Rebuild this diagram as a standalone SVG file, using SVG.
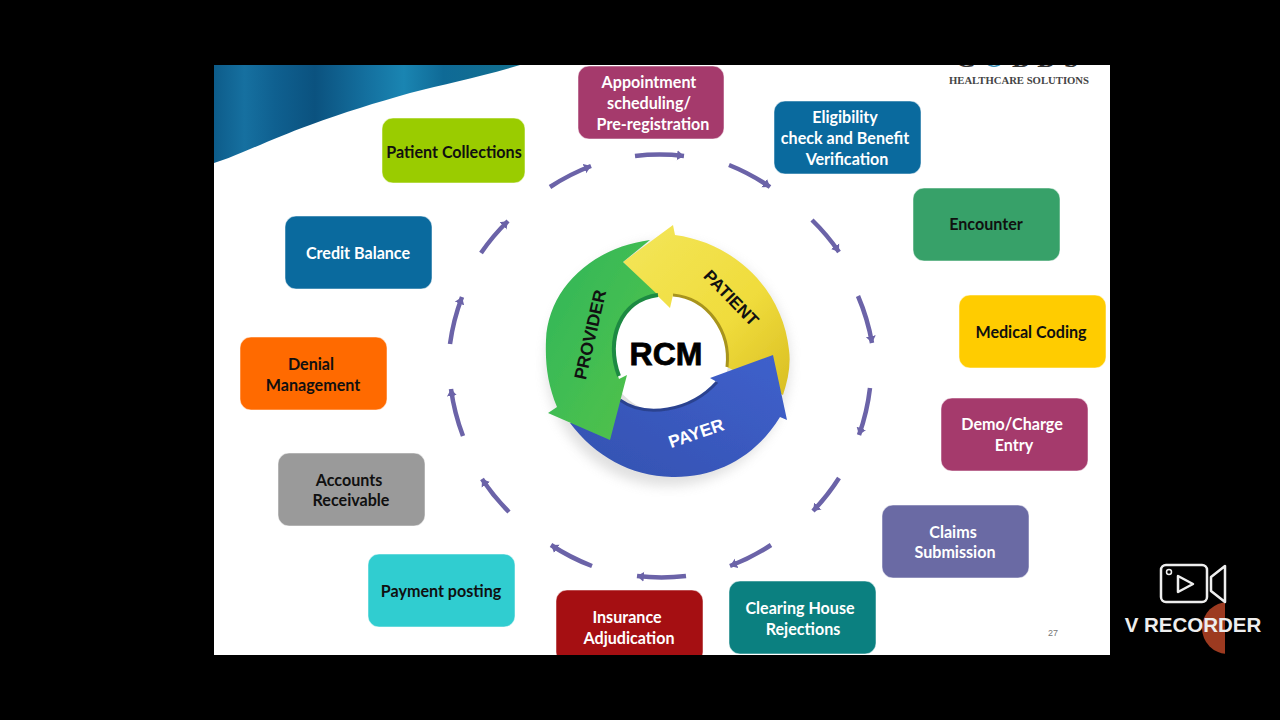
<svg xmlns="http://www.w3.org/2000/svg" width="1280" height="720" viewBox="0 0 1280 720">
<style>
.n{stroke:#fff;stroke-opacity:.5;stroke-width:1}
.t{font-family:Lato,"Liberation Sans",sans-serif;font-weight:700;font-size:16.1px;text-anchor:middle;transform:translateY(1px)}
.w{fill:#fff}.k{fill:#101010}
.c{fill:none;stroke:#6b63a8;stroke-width:4.5;marker-end:url(#ah)}
.r{font-family:"Liberation Sans",sans-serif;font-weight:700;text-anchor:middle}
</style>
<defs>
<marker id="ah" markerUnits="userSpaceOnUse" markerWidth="10" markerHeight="12" refX="7" refY="6" orient="auto"><path d="M0 1L7 6L0 11Z" fill="#6b63a8"/></marker>
<linearGradient id="ban" x1="0" y1="0" x2="1" y2="0"><stop offset="0" stop-color="#0d5c8a"/><stop offset=".1" stop-color="#1670a0"/><stop offset=".2" stop-color="#0f6090"/><stop offset=".33" stop-color="#0b527f"/><stop offset=".5" stop-color="#14709f"/><stop offset=".62" stop-color="#1a85b2"/><stop offset=".75" stop-color="#0f6a96"/><stop offset="1" stop-color="#12708f"/></linearGradient>
<linearGradient id="gy" x1="0" y1="0" x2="1" y2="1"><stop offset="0" stop-color="#f3e65a"/><stop offset=".6" stop-color="#f0dc3c"/><stop offset="1" stop-color="#d9be22"/></linearGradient>
<linearGradient id="gg" x1="0" y1="0" x2="1" y2="1"><stop offset="0" stop-color="#2fb55a"/><stop offset=".6" stop-color="#46bf50"/><stop offset="1" stop-color="#58c048"/></linearGradient>
<linearGradient id="gb" x1="1" y1="0" x2="0" y2="1"><stop offset="0" stop-color="#3f60cc"/><stop offset="1" stop-color="#3452b0"/></linearGradient>
<clipPath id="sl"><rect x="214" y="65" width="896" height="590"/></clipPath>
<clipPath id="rc"><rect x="1190" y="590" width="35" height="80"/></clipPath>
<filter id="sh" x="-20%" y="-20%" width="140%" height="140%"><feGaussianBlur stdDeviation="6"/></filter>
<filter id="so" x="-5%" y="-5%" width="110%" height="110%"><feGaussianBlur stdDeviation=".5"/></filter>
</defs>
<rect width="1280" height="720" fill="#000"/>
<rect x="214" y="65" width="896" height="590" fill="#fff"/>
<path d="M214 65H520C480 77 445 84 410 93C375 103 345 112 310 125C285 134 265 143 243 152C233 156 224 160 214 163Z" fill="url(#ban)"/>
<g clip-path="url(#sl)">
<text x="1021" y="67" font-family="'Liberation Serif',serif" font-weight="700" font-size="26" letter-spacing="8" text-anchor="middle" fill="#333">G<tspan fill="#3a90b8">O</tspan>BDS</text>
</g>
<text x="1019" y="84" font-family="'Liberation Serif',serif" font-weight="700" font-size="10.7" text-anchor="middle" fill="#444">HEALTHCARE SOLUTIONS</text>

<g id="connectors">
<path class="c" d="M635 156A212 212 0 0 1 684 156"/>
<path class="c" d="M729 165A212 212 0 0 1 770 187"/>
<path class="c" d="M812 220A212 212 0 0 1 839 252"/>
<path class="c" d="M858 296A212 212 0 0 1 872 343"/>
<path class="c" d="M870 388A212 212 0 0 1 859 435"/>
<path class="c" d="M839 478A212 212 0 0 1 813 511"/>
<path class="c" d="M771 545A212 212 0 0 1 730 566"/>
<path class="c" d="M686 576A212 212 0 0 1 637 576"/>
<path class="c" d="M592 566A212 212 0 0 1 551 545"/>
<path class="c" d="M509 512A212 212 0 0 1 482 479"/>
<path class="c" d="M463 436A212 212 0 0 1 451 389"/>
<path class="c" d="M450 344A212 212 0 0 1 462 297"/>
<path class="c" d="M481 253A212 212 0 0 1 508 221"/>
<path class="c" d="M550 187A212 212 0 0 1 591 166"/>
</g>

<g id="rcm-cycle">
<ellipse cx="668" cy="364" rx="122" ry="122" fill="#999" opacity=".3" filter="url(#sh)"/>
<circle cx="668" cy="352" r="62" fill="#fff"/>
<g filter="url(#so)">
<path id="yellow" d="M623 262L673 225L675 235C735 243 783 290 789 350C791 365 788 380 783 395L727 367C731 332 708 298 673 295L670 308Z" fill="url(#gy)"/>
<path d="M673 295C708 298 731 332 727 367" fill="none" stroke="#a8941c" stroke-width="3"/>
<path id="blue" d="M787 420L780 417C755 458 715 478 672 477C630 476 595 456 570 423L610 420L620 400C640 418 690 412 717 382L710 378L773 355Z" fill="url(#gb)"/>
<path d="M620 400C645 418 690 412 717 382" fill="none" stroke="#2b4390" stroke-width="3"/>
<path id="green" d="M650 240C590 248 548 290 546 340C545 365 548 385 557 407L548 413L610 440L627 375L619 379C605 340 620 300 658 295L623 262L650 240Z" fill="url(#gg)"/>
<path d="M619 376C605 340 620 300 658 295" fill="none" stroke="#1f8a42" stroke-width="4"/>
</g>
<text class="r" font-size="32" fill="#000" stroke="#000" stroke-width=".8" transform="translate(666 365)">RCM</text>
<text class="r" font-size="17" fill="#111" transform="translate(727 302) rotate(46)">PATIENT</text>
<text class="r" font-size="17.5" fill="#111" transform="translate(596 336) rotate(-77)">PROVIDER</text>
<text class="r" font-size="17.5" fill="#fff" transform="translate(698 439) rotate(-19)">PAYER</text>
</g>

<g id="n1"><rect class="n" x="578" y="66" width="146" height="73" rx="11" fill="#a53a6c"/><text class="t w"><tspan x="649" y="87">Appointment</tspan><tspan x="649" y="108">scheduling/</tspan><tspan x="653" y="129">Pre-registration</tspan></text></g>
<g id="n2"><rect class="n" x="774" y="101" width="147" height="73" rx="11" fill="#0a6a9e"/><text class="t w"><tspan x="845" y="122">Eligibility</tspan><tspan x="845" y="143">check and Benefit</tspan><tspan x="847" y="164">Verification</tspan></text></g>
<g id="n3"><rect class="n" x="913" y="188" width="147" height="73" rx="11" fill="#37a169"/><text class="t k" x="986" y="229">Encounter</text></g>
<g id="n4"><rect class="n" x="959" y="295" width="147" height="73" rx="11" fill="#ffcc00"/><text class="t k" x="1031" y="337">Medical Coding</text></g>
<g id="n5"><rect class="n" x="941" y="398" width="147" height="73" rx="11" fill="#a53a6c"/><text class="t w"><tspan x="1012" y="429">Demo/Charge</tspan><tspan x="1014" y="450">Entry</tspan></text></g>
<g id="n6"><rect class="n" x="882" y="505" width="147" height="73" rx="11" fill="#6a6aa4"/><text class="t w"><tspan x="953" y="537">Claims</tspan><tspan x="955" y="557">Submission</tspan></text></g>
<g id="n7"><rect class="n" x="729" y="581" width="147" height="73" rx="11" fill="#0b8080"/><text class="t w"><tspan x="800" y="613">Clearing House</tspan><tspan x="803" y="634">Rejections</tspan></text></g>
<g id="n8" clip-path="url(#sl)"><rect class="n" x="556" y="590" width="147" height="73" rx="11" fill="#a50f12"/><text class="t w"><tspan x="627" y="622">Insurance</tspan><tspan x="629" y="643">Adjudication</tspan></text></g>
<g id="n9"><rect class="n" x="368" y="554" width="147" height="73" rx="11" fill="#30cdd0"/><text class="t k" x="441" y="596">Payment posting</text></g>
<g id="n10"><rect class="n" x="278" y="453" width="147" height="73" rx="11" fill="#9a9a9a"/><text class="t k"><tspan x="349" y="485">Accounts</tspan><tspan x="351" y="505">Receivable</tspan></text></g>
<g id="n11"><rect class="n" x="240" y="337" width="147" height="73" rx="11" fill="#ff6a00"/><text class="t k"><tspan x="311" y="369">Denial</tspan><tspan x="313" y="390">Management</tspan></text></g>
<g id="n12"><rect class="n" x="285" y="216" width="147" height="73" rx="11" fill="#0a6a9e"/><text class="t w" x="358" y="258">Credit Balance</text></g>
<g id="n13"><rect class="n" x="382" y="118" width="143" height="65" rx="11" fill="#9acc00"/><text class="t k" x="454" y="157">Patient Collections</text></g>

<text x="1053" y="636" font-family="'Liberation Sans',sans-serif" font-size="9" text-anchor="middle" fill="#777">27</text>

<g id="watermark">
<circle cx="1228" cy="628" r="26" fill="#9c3a20" clip-path="url(#rc)"/>
<rect x="1161" y="565" width="46" height="37" rx="5" fill="none" stroke="#eee" stroke-width="2.5"/>
<path d="M1211 577L1225 566V602L1211 591Z" fill="none" stroke="#eee" stroke-width="2.5" stroke-linejoin="round"/>
<circle cx="1169" cy="572" r="2.5" fill="none" stroke="#eee" stroke-width="1.5"/>
<path d="M1178 576L1193 584L1178 592Z" fill="none" stroke="#eee" stroke-width="2.5" stroke-linejoin="round"/>
<text x="1193" y="632" font-family="'Liberation Sans',sans-serif" font-weight="700" font-size="20.5" text-anchor="middle" fill="#eee">V RECORDER</text>
</g>
</svg>
